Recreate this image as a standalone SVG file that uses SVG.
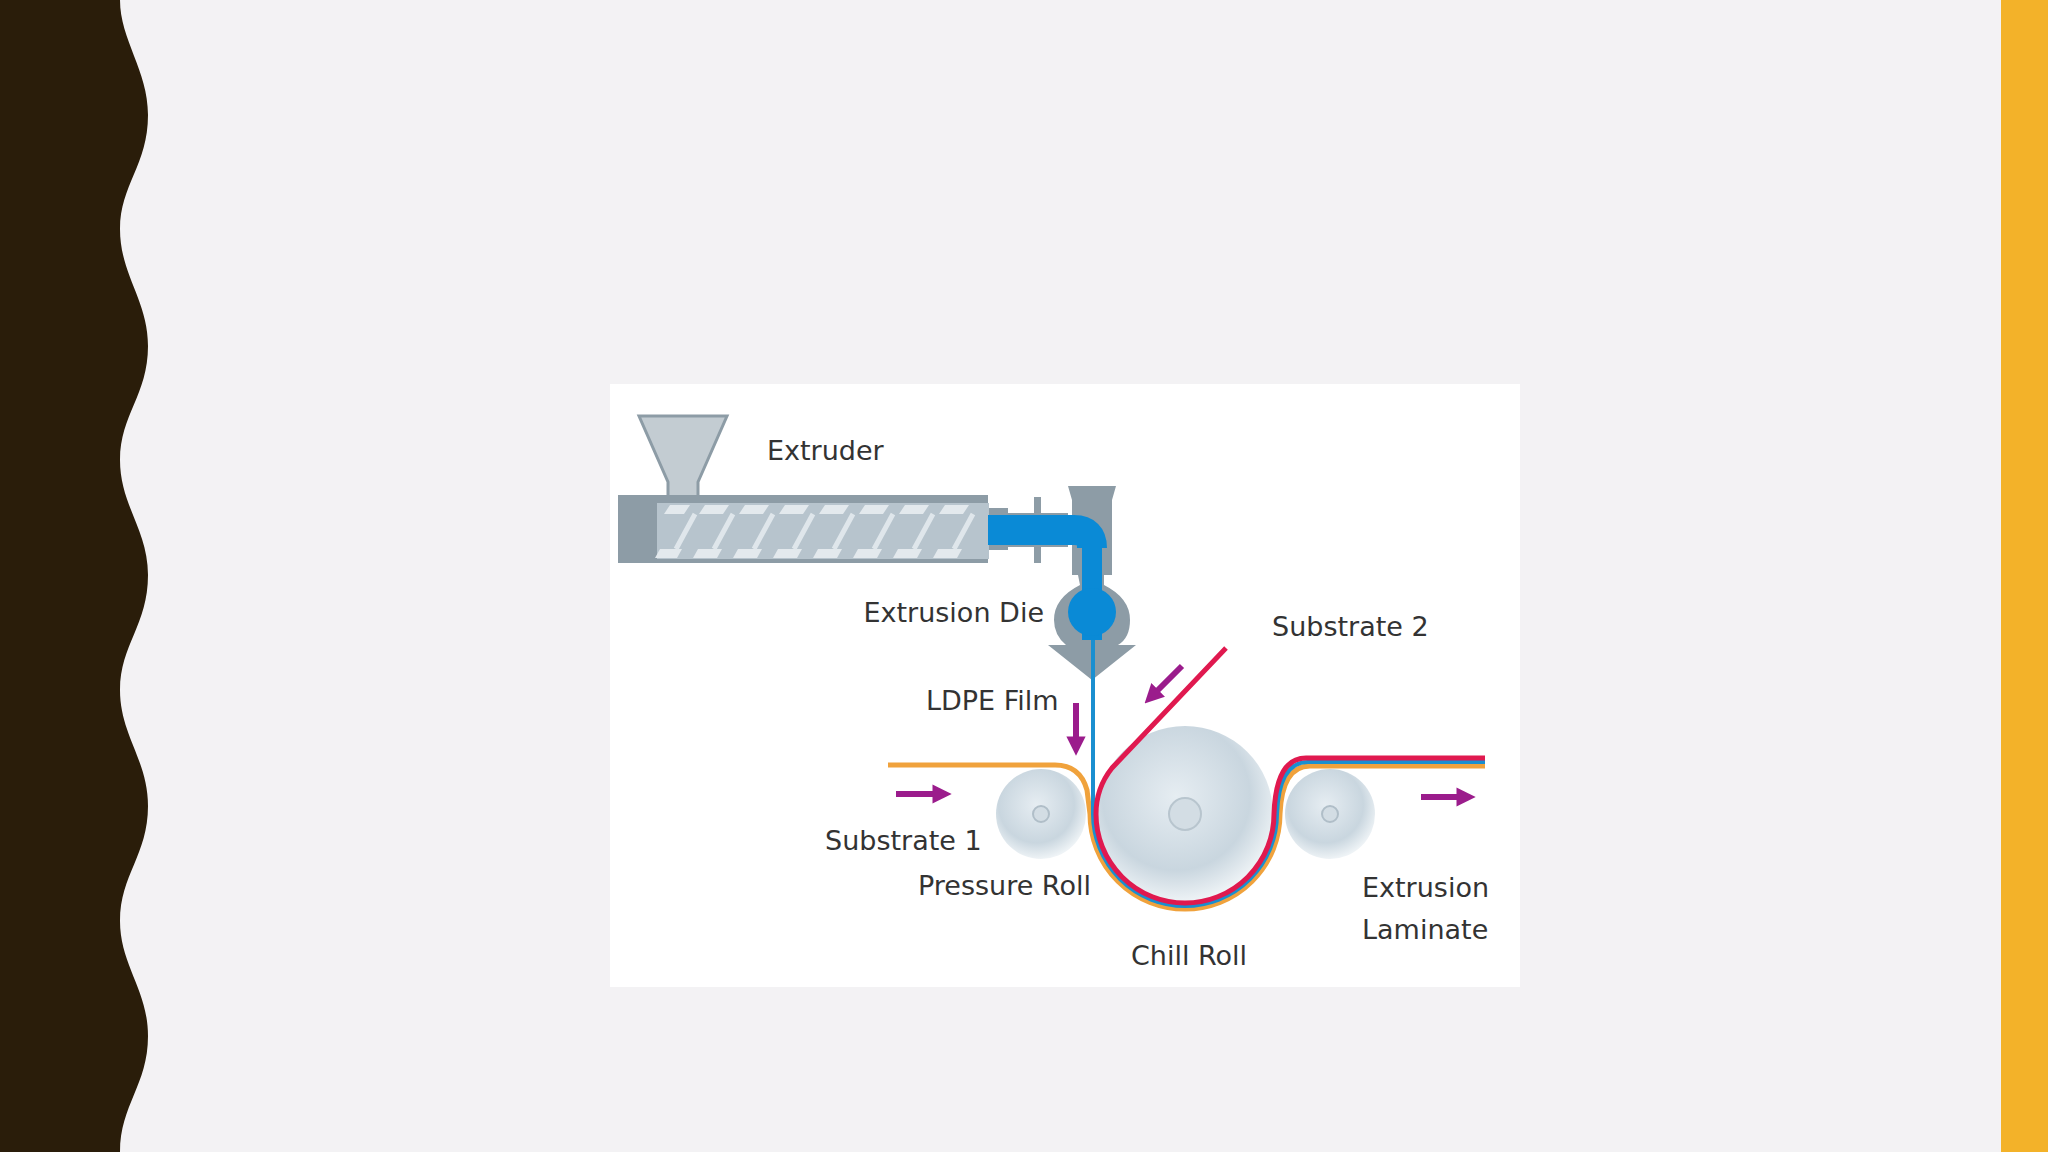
<svg xmlns="http://www.w3.org/2000/svg" width="2048" height="1152" viewBox="0 0 2048 1152">
<defs>
<radialGradient id="roll" cx="0.45" cy="0.4" r="0.6">
<stop offset="0" stop-color="#e6edf2"/><stop offset="0.7" stop-color="#c9d6df"/><stop offset="1" stop-color="#eef3f6"/>
</radialGradient>
<marker id="ah" viewBox="0 0 10 10" refX="6" refY="5" markerWidth="3.2" markerHeight="3.2" orient="auto" markerUnits="strokeWidth">
<path d="M0,0 L10,5 L0,10 Z" fill="#9b1c8c"/>
</marker>
<style>
.lbl{font-family:"DejaVu Sans","Liberation Sans",sans-serif;font-size:27px;fill:#333}
.arr{stroke:#9b1c8c;stroke-width:6;fill:none;marker-end:url(#ah)}
.grey{fill:#8d9ca6}
</style>
</defs>
<rect width="2048" height="1152" fill="#f3f2f4"/>
<path d="M0,0 L120,0 C120,40 148,70 148,115 C148,165 120,185 120,229 C120,275 148,300 148,346 C148,395 120,415 120,460 C120,505 148,530 148,575 C148,625 120,645 120,690 C120,735 148,760 148,806 C148,855 120,875 120,921 C120,965 148,990 148,1036 C148,1085 120,1105 120,1152 L0,1152 Z" fill="#2a1d0a"/>
<rect x="2001" y="0" width="47" height="1152" fill="#f3b229"/>
<rect x="610" y="384" width="910" height="603" fill="#ffffff"/>

<g id="extruder">
<path d="M639,416 L727,416 L698,482 L698,497 L668,497 L668,482 Z" fill="#c3ccd2" stroke="#8d9ca6" stroke-width="3"/>
<rect class="grey" x="618" y="495" width="370" height="68"/>
<rect x="988" y="508" width="20" height="42" class="grey"/>
<rect x="1008" y="513" width="60" height="34" class="grey"/>
<rect x="1034" y="497" width="7" height="66" class="grey"/>
<rect x="657" y="503" width="332" height="56" fill="#b7c4cd"/>
<g fill="#e3e9ed">
<path d="M670,505 h20 l-6,9 h-20z M705,505 h24 l-6,9 h-24z M745,505 h24 l-6,9 h-24z M785,505 h24 l-6,9 h-24z M825,505 h24 l-6,9 h-24z M865,505 h24 l-6,9 h-24z M905,505 h24 l-6,9 h-24z M945,505 h24 l-6,9 h-24z"/>
<path d="M660,549 h22 l-5,9 h-22z M698,549 h24 l-5,9 h-24z M738,549 h24 l-5,9 h-24z M778,549 h24 l-5,9 h-24z M818,549 h24 l-5,9 h-24z M858,549 h24 l-5,9 h-24z M898,549 h24 l-5,9 h-24z M938,549 h24 l-5,9 h-24z"/>
</g>
<g stroke="#dfe6eb" stroke-width="5">
<path d="M695,514 L676,549 M733,514 L714,549 M773,514 L754,549 M813,514 L794,549 M853,514 L834,549 M893,514 L874,549 M933,514 L914,549 M973,514 L954,549"/>
</g>
<text class="lbl" x="767" y="460">Extruder</text>
</g>

<g id="die">
<path d="M1068,486 L1116,486 L1112,500 L1112,575 L1104,575 L1104,585 Q1130,598 1130,620 Q1130,638 1118,645 L1136,645 L1092,680 L1048,645 L1066,645 Q1054,635 1054,620 Q1054,598 1080,585 L1078,575 L1072,575 L1072,500 Z" class="grey"/>
<path d="M988,530 L1074,530 Q1092,530 1092,548" stroke="#0a8ad6" stroke-width="30" fill="none"/>
<path d="M1092,540 L1092,640" stroke="#0a8ad6" stroke-width="20" fill="none"/>
<circle cx="1092" cy="612" r="24" fill="#0a8ad6"/>
<text class="lbl" x="1044" y="622" text-anchor="end">Extrusion Die</text>
</g>

<g id="rolls">
<circle id="pressure-roll" cx="1041" cy="814" r="45" fill="url(#roll)"/>
<circle cx="1041" cy="814" r="8" fill="#d3dde4" stroke="#b0bec8" stroke-width="2"/>
<circle id="chill-roll" cx="1185" cy="814" r="88" fill="url(#roll)"/>
<circle cx="1185" cy="814" r="16" fill="#d3dde4" stroke="#b8c5ce" stroke-width="2"/>
<circle id="exit-roll" cx="1330" cy="814" r="45" fill="url(#roll)"/>
<circle cx="1330" cy="814" r="8" fill="#d3dde4" stroke="#b0bec8" stroke-width="2"/>
</g>

<g id="connectors" fill="none" stroke-width="5">
<path d="M888,765 L1055,765 Q1080,765 1087,790 L1090,814 A95 95 0 0 0 1280,814 Q1282,766 1310,766 L1485,766" stroke="#f0a23c"/>
<path d="M1093,640 L1093,814 A92 92 0 0 0 1277,814 Q1279,762 1308,762 L1485,762" stroke="#1a8fd0" stroke-width="4"/>
<path d="M1226,648 L1112,768 Q1096,788 1096,814 A89 89 0 0 0 1274,814 Q1276,758 1306,758 L1485,758" stroke="#e0194f"/>
<line class="arr" x1="896" y1="794" x2="944" y2="794"/>
<line class="arr" x1="1421" y1="797" x2="1468" y2="797"/>
<line class="arr" x1="1076" y1="703" x2="1076" y2="748"/>
<line class="arr" x1="1182" y1="666" x2="1150" y2="698"/>
</g>

<g id="labels">
<text class="lbl" x="1272" y="636">Substrate 2</text>
<text class="lbl" x="926" y="710">LDPE Film</text>
<text class="lbl" x="825" y="850">Substrate 1</text>
<text class="lbl" x="918" y="895">Pressure Roll</text>
<text class="lbl" x="1362" y="897">Extrusion</text>
<text class="lbl" x="1362" y="939">Laminate</text>
<text class="lbl" x="1131" y="965">Chill Roll</text>
</g>
</svg>
